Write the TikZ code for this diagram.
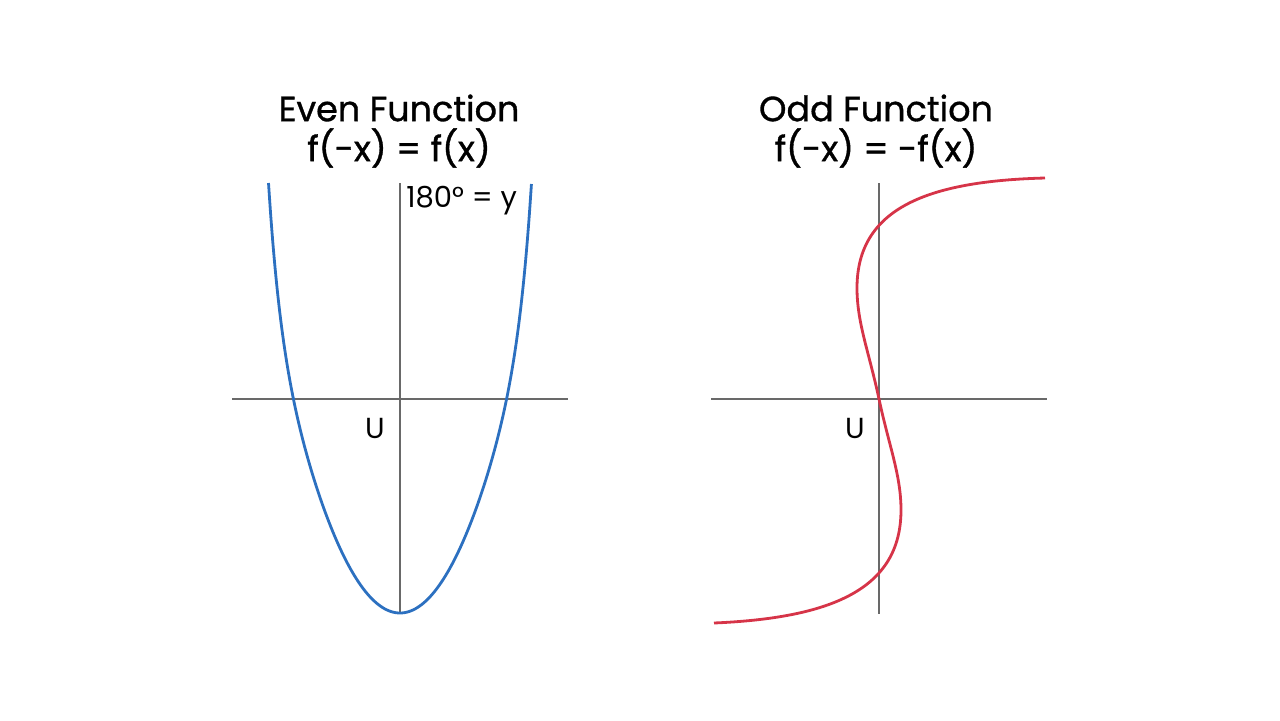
\documentclass[tikz,border=0pt]{standalone}
\usepackage{fontspec}
\setmainfont{Poppins}
\newfontfamily\titlefont{Poppins}[FakeBold=1]
\usepackage{tikz}

\definecolor{evenblue}{RGB}{44,112,192}
\definecolor{oddred}{RGB}{214,52,72}
\definecolor{axisgray}{RGB}{105,105,105}

\tikzset{
  axis/.style={draw=axisgray, line width=0.7pt},
  curve/.style={line width=1.4pt},
  title/.style={font=\titlefont\fontsize{17.5}{20}\selectfont, inner sep=0pt},
  label/.style={font=\fontsize{14.5}{17}\selectfont, inner sep=0pt},
  declare function={sq(\t)=\t*\t; arm(\t)=sq(\t)*sq(\t)*sq(\t)*sq(\t)*sq(\t)*sq(\t);}
}

\begin{document}
\begin{tikzpicture}[x=0.5pt, y=-0.5pt]
    \useasboundingbox (0,0) rectangle (1280,720);

    % even function
    \coordinate (eo) at (400,399);
    \draw[axis] (232,399) -- (568,399);
    \draw[axis] (400,183) -- (400,613);
    \draw[curve, evenblue] plot[domain=-1:1, samples=121, smooth]
      ({400+131.5*\x}, {613-311.3*sq(\x)-118.7*arm(\x)});

    \node[title] (eventitle) at (399,108) {Even Function};
    \node[title] (evenrule) at (399,148) {f(-x) = f(x)};
    \node[label, anchor=west] (evenlabel) at (406,201) {180° = y};
    \node[label] (evenorigin) at (375,428) {U};

    % odd function
    \coordinate (oo) at (879,399);
    \draw[axis] (711,399) -- (1047,399);
    \draw[axis] (879,183) -- (879,614);
    \draw[curve, oddred] (714,623) .. controls (830,618) and (901,590) .. (901,510)
      .. controls (901,475) and (889,446) .. (879,399)
      .. controls (869,352) and (857,323) .. (857,288)
      .. controls (857,208) and (928,181) .. (1045,178);

    \node[title] (oddtitle) at (876,108) {Odd Function};
    \node[title] (oddrule) at (876,148) {f(-x) = -f(x)};
    \node[label] (oddorigin) at (855,428) {U};
\end{tikzpicture}
\end{document}
